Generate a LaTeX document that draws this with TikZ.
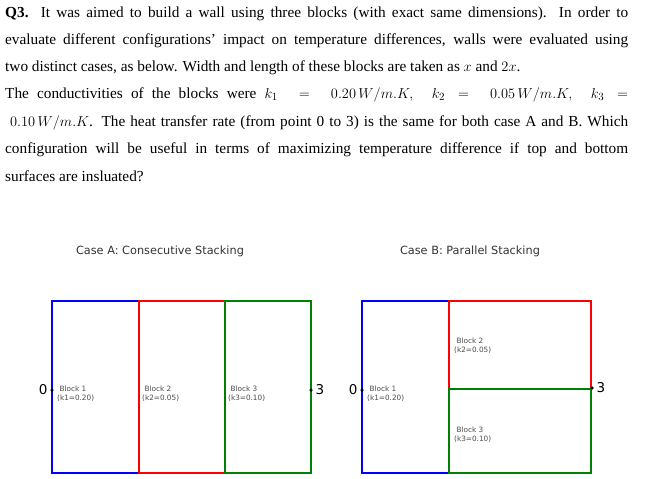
\documentclass[tikz,border=0pt]{standalone}
\usepackage{fontspec}
\setmainfont{Liberation Serif}
\newfontfamily\dvs{DejaVu Sans}
\begin{document}
\begin{tikzpicture}[x=1pt,y=-1pt,
  ql/.style={anchor=base west,inner sep=0pt,text width=623pt,font=\fontsize{15.3}{17}\selectfont,align=justify},
  qr/.style={anchor=base west,inner sep=0pt,font=\fontsize{15.3}{17}\selectfont},
  blk/.style={font=\dvs\fontsize{7.3}{8.5}\selectfont,text=black!70,align=left,anchor=north west,inner sep=0pt},
  ttl/.style={font=\dvs\fontsize{11.3}{13}\selectfont,text=black!80},
  pt/.style={circle,fill=black,inner sep=0pt,minimum size=3.5pt},
  num/.style={font=\dvs\fontsize{13.5}{15}\selectfont},
  lw/.style={line width=1.6pt}]
\useasboundingbox (0,0) rectangle (649,479);
\fill[white] (0,0) rectangle (649,479);
\node[ql] (l1) at (5,17) {\textbf{Q3.} It was aimed to build a wall using three blocks (with exact same dimensions). In order to\parfillskip=0pt\par};
\node[ql] (l2) at (5,44) {evaluate different configurations' impact on temperature differences, walls were evaluated using\parfillskip=0pt\par};
\node[qr] (l3) at (5,71) {two distinct cases, as below. Width and length of these blocks are taken as $x$ and $2x$.};
\node[ql] (l4) at (5,98) {The conductivities of the blocks were $k_1\ =\ 0.20\,W/m.K,\ \ k_2 = \ 0.05\,W/m.K,\ \ k_3 =$\parfillskip=0pt\par};
\node[ql] (l5) at (5,126) {\ $0.10\,W/m.K$. The heat transfer rate (from point 0 to 3) is the same for both case A and B. Which\parfillskip=0pt\par};
\node[ql] (l6) at (5,153) {configuration will be useful in terms of maximizing temperature difference if top and bottom\parfillskip=0pt\par};
\node[qr] (l7) at (5,181) {surfaces are insluated?};
% Case A
\node[ttl] (ta) at (160,251) {Case A: Consecutive Stacking};
\draw[lw,blue] (52,301) rectangle (139,473);
\draw[lw,red] (139,301) rectangle (225,473);
\draw[lw,green!50!black] (225,301) rectangle (311,473);
\node[blk] (a1) at (57,386) {\ Block 1\\(k1=0.20)};
\node[blk] (a2) at (142,386) {\ Block 2\\(k2=0.05)};
\node[blk] (a3) at (228,386) {\ Block 3\\(k3=0.10)};
\node[pt] (p0a) at (52,390) {};
\node[pt] (p3a) at (311,390) {};
\node[num,left=1pt] (n0a) at (p0a) {0};
\node[num,right=1pt] (n3a) at (p3a) {3};
% Case B
\node[ttl] (tb) at (470,251) {Case B: Parallel Stacking};
\draw[lw,blue] (362,301) rectangle (449,473);
\draw[lw,red] (449,301) rectangle (591,389);
\draw[lw,green!50!black] (449,389) rectangle (591,473);
\node[blk] (b1) at (367,386) {\ Block 1\\(k1=0.20)};
\node[blk] (b2) at (454,338) {\ Block 2\\(k2=0.05)};
\node[blk] (b3) at (454,427) {\ Block 3\\(k3=0.10)};
\node[pt] (p0b) at (362,390) {};
\node[pt] (p3b) at (592,388) {};
\node[num,left=1pt] (n0b) at (p0b) {0};
\node[num,right=1pt] (n3b) at (p3b) {3};
\end{tikzpicture}
\end{document}
